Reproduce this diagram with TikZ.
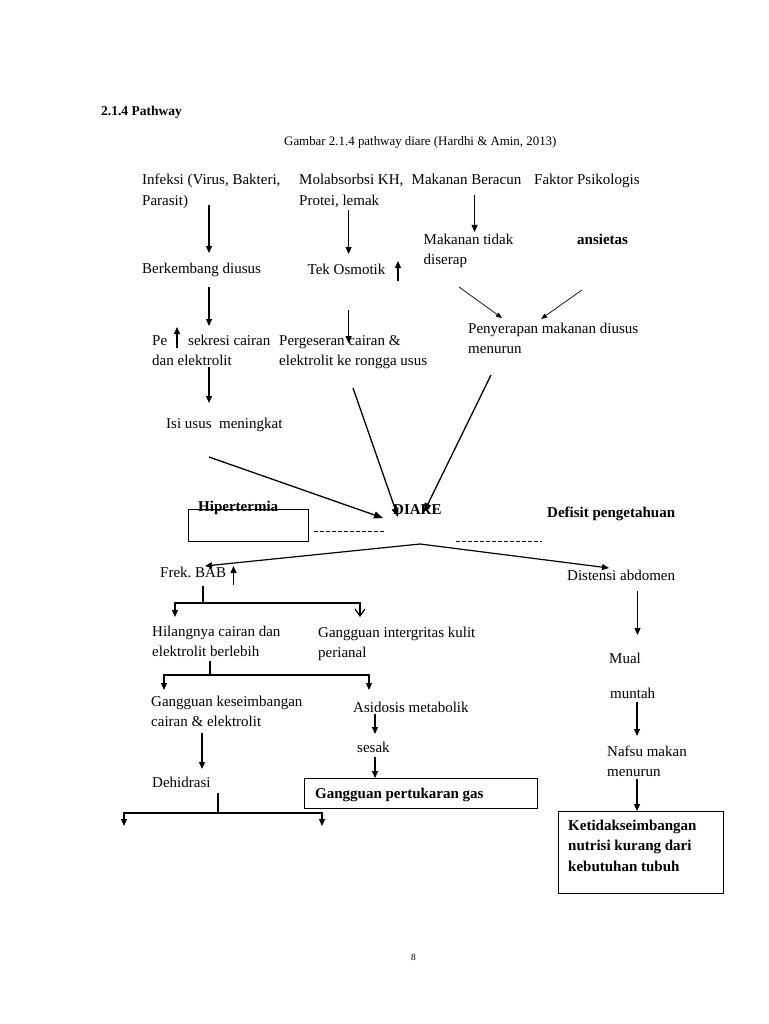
\documentclass[tikz,border=0pt]{standalone}
\usepackage{fontspec}
\setmainfont{Liberation Serif}
\usetikzlibrary{arrows.meta}
\begin{document}
\begin{tikzpicture}[x=1pt,y=-1pt,
  txt/.style={anchor=base west,inner sep=0pt,font=\fontsize{15}{20.7}\selectfont},
  mtxt/.style={txt,text width=200pt,align=flush left},
  btxt/.style={anchor=base west,inner sep=0pt,font=\fontsize{15}{20.7}\selectfont\bfseries},
  arr/.style={line width=1.2pt,-{Triangle[length=7pt,width=6pt]}},
  thinarr/.style={line width=0.7pt,-{Triangle[length=6pt,width=4.5pt]}},
  openarr/.style={line width=1.2pt,-{Straight Barb[length=7pt,width=10pt]}},
  longarr/.style={line width=1.3pt,-{Triangle[length=9pt,width=7pt]}},
  boxed/.style={draw,line width=0.9pt,anchor=north west,inner sep=0pt},
  dashline/.style={line width=0.8pt,dash pattern=on 4pt off 2pt}]
  \useasboundingbox (0,0) rectangle (768,1024);

  % Headings
  \node[anchor=base west,inner sep=0pt,font=\fontsize{13.5}{16}\selectfont\bfseries] (title) at (101,116) {2.1.4 Pathway};
  \node[anchor=base west,inner sep=0pt,font=\fontsize{12.9}{16}\selectfont] (caption) at (284,146) {Gambar 2.1.4 pathway diare (Hardhi \& Amin, 2013)};

  % Causes
  \node[mtxt] (infeksi) at (142,185) {Infeksi (Virus, Bakteri,\\Parasit)};
  \node[mtxt] (molabsorbsi) at (299,185) {Molabsorbsi KH,\\Protei, lemak};
  \node[txt] (beracun) at (411.5,185) {Makanan Beracun};
  \node[txt] (psikologis) at (534,185) {Faktor Psikologis};
  \node[mtxt] (tidakserap) at (423.5,244) {Makanan tidak\\diserap};
  \node[btxt] (ansietas) at (577,244) {ansietas};
  \node[txt] (berkembang) at (142,273) {Berkembang diusus};
  \node[txt] (osmotik) at (307.5,274) {Tek Osmotik};
  \node[mtxt] (sekresi) at (152,345) {Pe\hspace{21pt}sekresi cairan\\dan elektrolit};
  \node[mtxt] (pergeseran) at (279,345) {Pergeseran cairan \&\\elektrolit ke rongga usus};
  \node[mtxt] (penyerapan) at (468,333) {Penyerapan makanan diusus\\menurun};
  \node[txt] (isiusus) at (166,428) {Isi usus\ \ meningkat};

  % Diare and its problems
  \node[btxt] (hipertermia) at (198,511) {Hipertermia};
  \node[boxed,minimum width=120pt,minimum height=32pt] (hiperbox) at (188,509) {};
  \node[btxt] (diare) at (393,514) {DIARE};
  \node[btxt] (defisit) at (547,517) {Defisit pengetahuan};
  \node[txt] (frekbab) at (160,577) {Frek.\ BAB};
  \node[txt] (distensi) at (567,580) {Distensi abdomen};
  \node[mtxt] (hilangnya) at (152,636) {Hilangnya cairan dan\\elektrolit berlebih};
  \node[mtxt] (integritas) at (318,637) {Gangguan intergritas kulit\\perianal};
  \node[txt] (mual) at (609,663) {Mual};
  \node[txt] (muntah) at (610,698) {muntah};
  \node[mtxt] (keseimbangan) at (151,706) {Gangguan keseimbangan\\cairan \& elektrolit};
  \node[txt] (asidosis) at (353,712) {Asidosis metabolik};
  \node[txt] (sesak) at (357,752) {sesak};
  \node[mtxt] (nafsu) at (607,756) {Nafsu makan\\menurun};
  \node[txt] (dehidrasi) at (152,787) {Dehidrasi};
  \node[boxed,minimum width=233pt,minimum height=30pt] (gasbox) at (304,778) {};
  \node[btxt] (gas) at (315,798) {Gangguan pertukaran gas};
  \node[boxed,minimum width=165pt,minimum height=82pt] (nutribox) at (558,811) {};
  \node[btxt,text width=150pt,align=flush left] (nutrisi) at (568,830) {Ketidakseimbangan\\nutrisi kurang dari\\kebutuhan tubuh};
  \node[anchor=base west,inner sep=0pt,font=\fontsize{9.5}{11}\selectfont] (page) at (411,960) {8};

  % Arrow ends
  \coordinate (infeksiend) at (209,205);
  \coordinate (molabend) at (348.6,210);
  \coordinate (beracunend) at (474.6,195);
  \coordinate (osmoup) at (398,281);
  \coordinate (kembangend) at (209,287);
  \coordinate (osmoend) at (348.6,310);
  \coordinate (tidakend) at (459,287);
  \coordinate (ansietasend) at (582,290);
  \coordinate (peup) at (177,348);
  \coordinate (sekresiend) at (209,367);
  \coordinate (isiend) at (209,457);
  \coordinate (geserend) at (353,388);
  \coordinate (serapend) at (491,375);
  \coordinate (split) at (420,544);
  \coordinate (frekup) at (233.5,585);
  \coordinate (frekstem) at (203,586);
  \coordinate (distensiend) at (637.5,591);
  \coordinate (hilangstem) at (210,661);
  \coordinate (asidosisend) at (375,714);
  \coordinate (muntahend) at (637,702);
  \coordinate (seimbangend) at (202,733);
  \coordinate (sesakend) at (375,757);
  \coordinate (nafsuend) at (637,779);
  \coordinate (dehidrasistem) at (218,793);

  % Arrows
  \draw[arr] (infeksiend) -- ++(0,48);
  \draw[arr] (molabend) -- ++(0,44);
  \draw[arr] (beracunend) -- ++(0,37);
  \draw[arr] (osmoup) -- ++(0,-20);
  \draw[arr] (kembangend) -- ++(0,39);
  \draw[arr] (osmoend) -- ++(0,33);
  \draw[thinarr] (tidakend) -- ++(43,31);
  \draw[thinarr] (ansietasend) -- ++(-41,29);
  \draw[arr] (peup) -- ++(0,-21);
  \draw[arr] (sekresiend) -- ++(0,36);
  \draw[longarr] (isiend) -- (383,518);
  \draw[longarr] (geserend) -- (398,517);
  \draw[longarr] (serapend) -- (424,512);
  \draw[dashline] (hiperbox.east |- 0,531) ++(5,0) -- (384,531);
  \draw[dashline] (456,541) -- (542,541);
  \draw[arr] (split) -- (205,566);
  \draw[arr] (split) -- (609,568);
  \draw[arr] (frekup) -- ++(0,-19);
  \draw[arr] (frekstem) -- ++(0,17) -| (175,617);
  \draw[openarr] (frekstem) ++(0,17) -| (360,617);
  \draw[arr] (distensiend) -- ++(0,44);
  \draw[arr] (hilangstem) -- ++(0,14) -| (164,690);
  \draw[arr] (hilangstem) ++(0,14) -| (369,690);
  \draw[arr] (muntahend) -- ++(0,34);
  \draw[arr] (seimbangend) -- ++(0,36);
  \draw[arr] (asidosisend) -- ++(0,20);
  \draw[arr] (sesakend) -- (sesakend |- gasbox.north);
  \draw[arr] (nafsuend) -- (nafsuend |- nutribox.north);
  \draw[arr] (dehidrasistem) -- ++(0,20) -| (124,826);
  \draw[arr] (dehidrasistem) ++(0,20) -| (322,826);
\end{tikzpicture}
\end{document}
